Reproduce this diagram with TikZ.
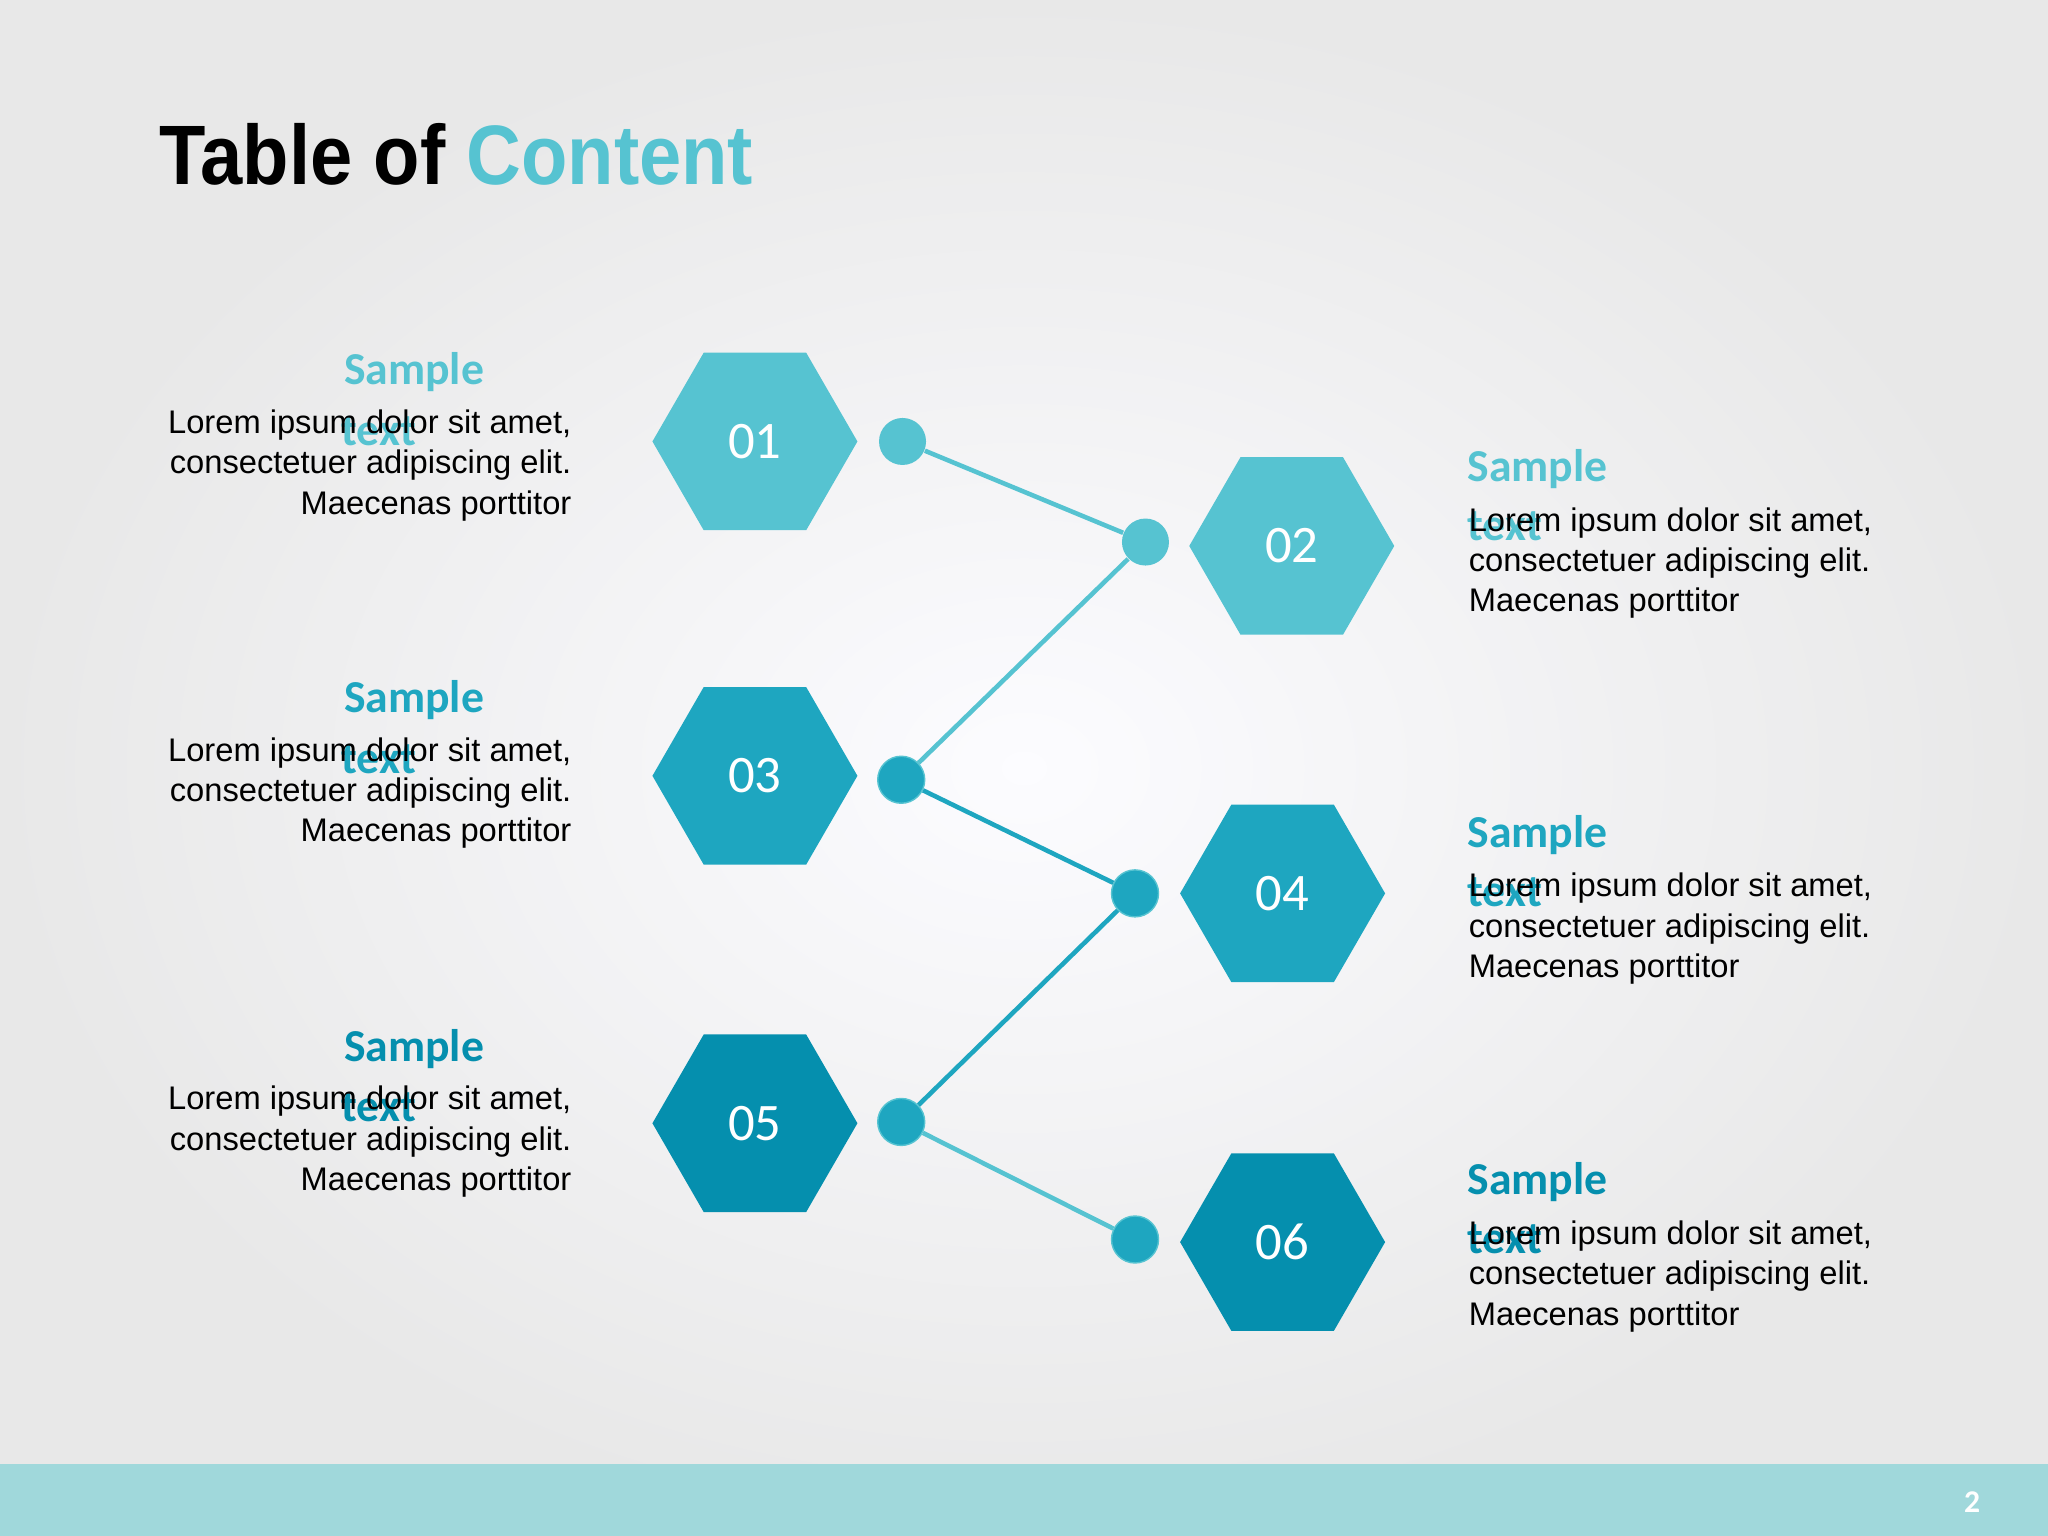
\documentclass[tikz,border=0pt]{standalone}
\usepackage{fontspec}
\setmainfont{Liberation Sans}
\newfontfamily\calfont{Carlito}
\usetikzlibrary{shapes.geometric}
\definecolor{cA}{HTML}{56C3D1}
\definecolor{cB}{HTML}{1EA6C0}
\definecolor{cC}{HTML}{058FAE}
\definecolor{band}{HTML}{A0D8DB}
\tikzset{
 hexa/.style={regular polygon,regular polygon sides=6,minimum size=2.05cm,inner sep=0pt,text=white,font=\calfont\fontsize{15}{15}\selectfont},
 dot/.style={circle,minimum size=0.47cm,inner sep=0pt},
 link/.style={line width=1.3pt},
 samp/.style={font=\calfont\bfseries\fontsize{13}{13}\selectfont},
 body/.style={font=\fontsize{9.3}{11.5}\selectfont,inner sep=0pt}
}
\begin{document}
\begin{tikzpicture}[x=0.013061cm,y=-0.013061cm]
\useasboundingbox (0,0) rectangle (1568,1176);
\shade[inner color=white!60!blue!3,outer color=black!9] (0,0) rectangle (1568,1176);
\fill[band] (0,1121) rectangle (1568,1176);
\node[text=white,font=\calfont\bfseries\fontsize{9}{9}\selectfont] (pg) at (1510,1150) {2};
\node[anchor=west,xscale=0.9,font=\bfseries\fontsize{24}{24}\selectfont,inner sep=0pt] (title) at (122,118) {Table of \textcolor{cA}{Content}};
% hexagons
\node[hexa,fill=cA] (h1) at (578,338) {01};
\node[hexa,fill=cA] (h2) at (989,418) {02};
\node[hexa,fill=cB] (h3) at (578,594) {03};
\node[hexa,fill=cB] (h4) at (982,684) {04};
\node[hexa,fill=cC] (h5) at (578,860) {05};
\node[hexa,fill=cC] (h6) at (982,951) {06};
% dots
\node[dot,fill=cA] (d1) at (691,338) {};
\node[dot,fill=cA] (d2) at (877,415) {};
\node[dot,fill=cB,draw=cA] (d3) at (690,597) {};
\node[dot,fill=cB,draw=cA] (d4) at (869,684) {};
\node[dot,fill=cB,draw=cA] (d5) at (690,859) {};
\node[dot,fill=cB,draw=cA] (d6) at (869,949) {};
\draw[link,cA] (d1) -- (d2);
\draw[link,cA] (d2) -- (d3);
\draw[link,cB] (d3) -- (d4);
\draw[link,cB] (d4) -- (d5);
\draw[link,cA] (d5) -- (d6);
% left texts
\foreach \n/\y/\c in {1/0/cA,3/251/cB,5/518/cC}{
 \node[samp,text=\c] (s\n) at (317,285+\y) {Sample};
 \node[samp,text=\c] (t\n) at (290,330+\y) {text};
 \node[body,anchor=north east,align=right] (b\n) at (438,313+\y) {Lorem ipsum dolor sit amet,\\consectetuer adipiscing elit.\\Maecenas porttitor};
}
\foreach \n/\y/\c in {2/0/cA,4/280/cB,6/546/cC}{
 \node[samp,text=\c,anchor=west,inner sep=0pt] (s\n) at (1123,359+\y) {Sample};
 \node[samp,text=\c,anchor=west,inner sep=0pt] (t\n) at (1123,403+\y) {text};
 \node[body,anchor=north west,align=left] (b\n) at (1124,388+\y) {Lorem ipsum dolor sit amet,\\consectetuer adipiscing elit.\\Maecenas porttitor};
}
\end{tikzpicture}
\end{document}
